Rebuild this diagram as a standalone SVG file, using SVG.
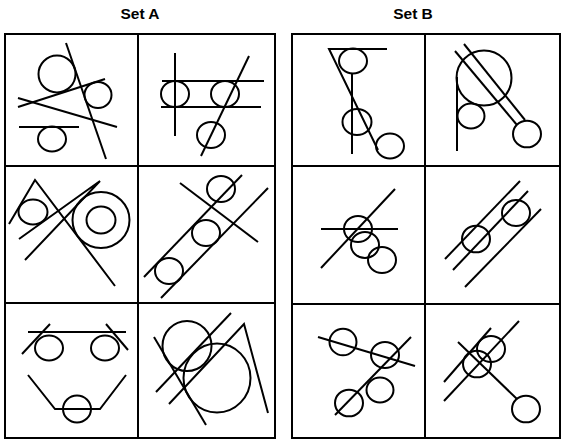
<svg xmlns="http://www.w3.org/2000/svg" width="566" height="444" viewBox="0 0 566 444">
<style>
.t{font-family:"Liberation Sans",Arial,sans-serif;font-weight:bold;font-size:15.5px;fill:#000}
.g{fill:none;stroke:#000;stroke-width:2}
.s{fill:none;stroke:#000;stroke-width:2;stroke-linecap:butt;stroke-linejoin:miter}
</style>
<rect width="566" height="444" fill="#fff"/>
<text class="t" x="140" y="19" text-anchor="middle">Set A</text>
<text class="t" x="413" y="19" text-anchor="middle">Set B</text>
<g id="gridA" class="g">
<rect x="5" y="34" width="270" height="404"/>
<line x1="138" y1="34" x2="138" y2="438"/>
<line x1="5" y1="166" x2="275" y2="166"/>
<line x1="5" y1="303" x2="275" y2="303"/>
</g>
<g id="gridB" class="g">
<rect x="292" y="34" width="268" height="404"/>
<line x1="425" y1="34" x2="425" y2="438"/>
<line x1="292" y1="166" x2="560" y2="166"/>
<line x1="292" y1="304" x2="560" y2="304"/>
</g>
<g id="a1" class="s">
<ellipse cx="57" cy="74" rx="18.5" ry="18.5"/>
<ellipse cx="98" cy="95" rx="13.5" ry="13"/>
<ellipse cx="52" cy="139" rx="14" ry="12.5"/>
<line x1="19" y1="127" x2="79" y2="127"/>
<line x1="66" y1="43" x2="106" y2="159"/>
<line x1="18" y1="107" x2="105" y2="79"/>
<line x1="18" y1="98" x2="117" y2="127"/>
</g>
<g id="a2" class="s">
<line x1="162" y1="81" x2="264" y2="81"/>
<line x1="161" y1="107" x2="261" y2="107"/>
<ellipse cx="175" cy="94" rx="14" ry="13"/>
<ellipse cx="225" cy="94" rx="14" ry="13"/>
<line x1="175" y1="53" x2="175" y2="136"/>
<line x1="249" y1="56" x2="201" y2="156"/>
<ellipse cx="211" cy="135" rx="14" ry="13"/>
</g>
<g id="a3" class="s">
<polyline points="9,224 35,180 115,286"/>
<ellipse cx="33" cy="212" rx="14.5" ry="12.5"/>
<polyline points="19,239 100,181 25,260"/>
<ellipse cx="101" cy="220" rx="28.5" ry="28"/>
<ellipse cx="101" cy="220" rx="14.5" ry="13.5"/>
</g>
<g id="a4" class="s">
<ellipse cx="221" cy="189" rx="14" ry="13"/>
<ellipse cx="206" cy="233" rx="14" ry="13"/>
<ellipse cx="169" cy="271" rx="14" ry="13"/>
<line x1="144" y1="277" x2="242" y2="175"/>
<line x1="161" y1="298" x2="268" y2="188"/>
<line x1="180" y1="183" x2="258" y2="242"/>
</g>
<g id="a5" class="s">
<line x1="28" y1="332" x2="126" y2="332"/>
<ellipse cx="49" cy="348" rx="14" ry="12.5"/>
<ellipse cx="105" cy="348" rx="14" ry="12.5"/>
<line x1="22" y1="354" x2="50" y2="324"/>
<line x1="106" y1="324" x2="128" y2="350"/>
<polyline points="28,375 55,409 100,409 126,375"/>
<ellipse cx="77" cy="409" rx="14" ry="13.5"/>
</g>
<g id="a6" class="s">
<ellipse cx="187" cy="346" rx="24.5" ry="25"/>
<ellipse cx="217" cy="378" rx="33.5" ry="34.5"/>
<line x1="154" y1="337" x2="206" y2="425"/>
<line x1="156" y1="392" x2="231" y2="313"/>
<polyline points="169,404 244,324 268,413"/>
</g>
<g id="b1" class="s">
<polyline points="387,49 329,49 378,150"/>
<ellipse cx="353" cy="61" rx="14" ry="12.5"/>
<line x1="352" y1="74" x2="352" y2="154"/>
<ellipse cx="357" cy="122" rx="14.5" ry="13"/>
<ellipse cx="390" cy="146" rx="14" ry="12.5"/>
</g>
<g id="b2" class="s">
<ellipse cx="484" cy="78" rx="27.5" ry="27.5"/>
<ellipse cx="471" cy="116" rx="13.5" ry="12.5"/>
<line x1="457" y1="77" x2="457" y2="151"/>
<line x1="455" y1="51" x2="517" y2="125"/>
<line x1="464" y1="44" x2="525" y2="120"/>
<ellipse cx="527" cy="134" rx="14" ry="13.3"/>
</g>
<g id="b3" class="s">
<line x1="321" y1="229" x2="398" y2="229"/>
<line x1="321" y1="268" x2="395" y2="189"/>
<ellipse cx="358" cy="229" rx="14" ry="13"/>
<ellipse cx="365" cy="245" rx="14" ry="13"/>
<ellipse cx="382" cy="260" rx="14" ry="13"/>
</g>
<g id="b4" class="s">
<line x1="445" y1="259" x2="520" y2="181"/>
<line x1="453" y1="270" x2="528" y2="191"/>
<line x1="465" y1="287" x2="541" y2="209"/>
<ellipse cx="476" cy="239" rx="14" ry="13.3"/>
<ellipse cx="516" cy="213" rx="14" ry="13"/>
</g>
<g id="b5" class="s">
<line x1="318" y1="337" x2="415" y2="366"/>
<line x1="335" y1="415" x2="411" y2="337"/>
<ellipse cx="343" cy="342" rx="13.5" ry="13.3"/>
<ellipse cx="385" cy="355" rx="14" ry="13"/>
<ellipse cx="380" cy="390" rx="13.5" ry="12.5"/>
<ellipse cx="349" cy="403" rx="14" ry="13.3"/>
</g>
<g id="b6" class="s">
<line x1="444" y1="382" x2="491" y2="328"/>
<line x1="444" y1="401" x2="519" y2="321"/>
<line x1="458" y1="342" x2="517" y2="399"/>
<ellipse cx="491" cy="349" rx="14" ry="13"/>
<ellipse cx="477" cy="364" rx="14" ry="13.3"/>
<ellipse cx="526" cy="409" rx="14" ry="13.3"/>
</g>
</svg>
